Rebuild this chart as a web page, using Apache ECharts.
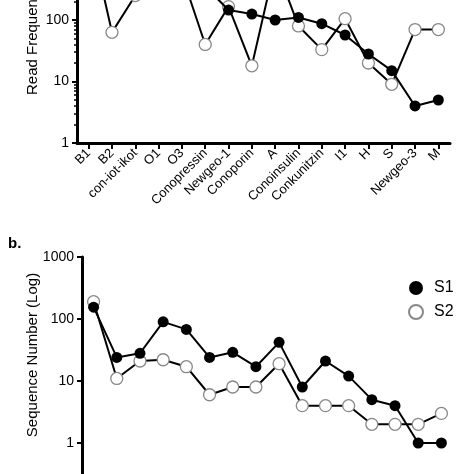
<!DOCTYPE html>
<html><head><meta charset="utf-8">
<script src="https://cdn.jsdelivr.net/npm/echarts@6/dist/echarts.min.js"></script>
<style>html,body{margin:0;padding:0;background:#fff;overflow:hidden;width:474px;height:474px}#c{position:absolute;left:0;top:-126px;width:474px;height:680px}</style>
</head><body><div id="c"></div>
<script>
const catsA = ['B1','B2','con-iot-ikot','O1','O3','Conopressin','Newgeo-1','Conoporin','A','Conoinsulin','Conkunitzin','I1','H','S','Newgeo-3','M'];
const topS1 = [900, 600, 1500, 1200, 2000, 350, 145, 125, 100, 110, 87, 57, 28, 15, 4, 5];
const topS2 = [3000, 63, 250, 500, 540, 40, 165, 18, 800, 80, 33, 105, 20, 9, 70, 70];
const catsB = ['1','2','3','4','5','6','7','8','9','10','11','12','13','14','15','16'];
const botS1 = [155, 24, 28, 90, 68, 24, 29, 17, 42, 8, 21, 12, 5, 4, 1, 1];
const botS2 = [190, 11, 21, 22, 17, 6, 8, 8, 19, 4, 4, 4, 2, 2, 2, 3];
const OFF = 126;
const chart = echarts.init(document.getElementById('c'));
const axisCommon = {
  axisLine:{show:true,lineStyle:{color:'#000',width:3}},
  axisTick:{show:true,length:5,lineStyle:{color:'#000',width:2}},
  splitLine:{show:false}
};
const yCommon = Object.assign({}, axisCommon, {
  type:'log', logBase:10,
  axisLabel:{color:'#000',fontSize:14,fontFamily:'Liberation Sans',margin:8,formatter:v=>String(v)},
  minorTick:{show:true,splitNumber:9,length:3,lineStyle:{color:'#000',width:1.5}}
});
const s1Style = {type:'line',symbol:'circle',symbolSize:11,itemStyle:{color:'#000'},lineStyle:{color:'#000',width:2},z:3};
const s2Style = {type:'line',symbol:'circle',symbolSize:12,itemStyle:{color:'#fff',borderColor:'#888',borderWidth:1.3},lineStyle:{color:'#000',width:2},z:2};
chart.setOption({
  animation:false,
  grid:[{left:77,top:-103+OFF,width:373,height:246},{left:82,top:257+OFF,width:371,height:248}],
  xAxis:[
    Object.assign({},axisCommon,{type:'category',gridIndex:0,data:catsA,boundaryGap:true,
      axisTick:{show:true,alignWithLabel:true,length:6,lineStyle:{color:'#000',width:2}},
      axisLabel:{color:'#000',fontSize:13,fontFamily:'Liberation Sans',rotate:45,interval:0,margin:8}}),
    Object.assign({},axisCommon,{type:'category',gridIndex:1,data:catsB,boundaryGap:true,
      axisLabel:{show:false},axisTick:{show:true,alignWithLabel:true}})
  ],
  yAxis:[
    Object.assign({},yCommon,{gridIndex:0,min:1,max:10000}),
    Object.assign({},yCommon,{gridIndex:1,min:0.1,max:1000,minorTick:{show:false}})
  ],
  legend:{data:[{name:'S1',icon:'circle'},{name:'S2',icon:'circle'}],orient:'vertical',left:403,top:275+OFF,itemWidth:14,itemHeight:14,itemGap:8,
    textStyle:{color:'#000',fontSize:16,fontFamily:'Liberation Sans',padding:[0,0,0,6]}},
  graphic:[
    {type:'text',left:8,top:236+OFF,style:{text:'b.',font:'bold 15px Liberation Sans',fill:'#000'}},
    {type:'text',x:33,y:20+OFF,rotation:Math.PI/2,style:{text:'Read Frequency (Log)',font:'15px Liberation Sans',fill:'#000',textAlign:'center',textVerticalAlign:'middle'}},
    {type:'text',x:33,y:355+OFF,rotation:Math.PI/2,style:{text:'Sequence Number (Log)',font:'15px Liberation Sans',fill:'#000',textAlign:'center',textVerticalAlign:'middle'}}
  ],
  series:[
    Object.assign({},s1Style,{name:'S1',xAxisIndex:0,yAxisIndex:0,data:topS1}),
    Object.assign({},s2Style,{name:'S2',xAxisIndex:0,yAxisIndex:0,data:topS2}),
    Object.assign({},s1Style,{name:'S1',xAxisIndex:1,yAxisIndex:1,data:botS1}),
    Object.assign({},s2Style,{name:'S2',xAxisIndex:1,yAxisIndex:1,data:botS2})
  ]
});
</script></body></html>
